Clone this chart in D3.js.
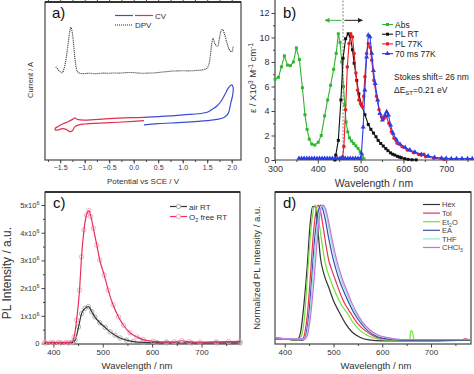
<!DOCTYPE html>
<html>
<head>
<meta charset="utf-8">
<script src="https://cdn.jsdelivr.net/npm/d3@7"></script>
<style>
  body { margin: 0; background: #fff; }
  svg { display: block; font-family: "Liberation Sans", Arial, sans-serif; }
</style>
</head>
<body>
<div id="chart"></div>
<script>
// ---------- a) CV / DPV  (potential V, current arb.) ----------
const dpv = [[-1.59,59.0],[-1.55,57.5],[-1.50,55.8],[-1.46,55.3],[-1.42,58],[-1.38,64],[-1.34,73],[-1.30,82],[-1.28,84],[-1.25,80],[-1.22,71],[-1.19,62],[-1.15,56],[-1.10,54.9],[-1.0,54.7],[-0.9,54.9],[-0.8,54.6],[-0.7,54.8],[-0.6,55.0],[-0.5,54.9],[-0.4,55.1],[-0.3,55.0],[-0.2,55.2],[-0.1,55.4],[0.0,55.3],[0.1,55.0],[0.2,54.9],[0.3,55.0],[0.4,55.1],[0.5,55.4],[0.6,55.7],[0.7,56.0],[0.8,56.3],[0.9,56.4],[1.0,56.5],[1.1,56.4],[1.2,56.5],[1.3,56.7],[1.4,57.0],[1.49,58],[1.53,60],[1.56,65],[1.59,73],[1.62,77],[1.66,73.5],[1.71,72],[1.75,77],[1.78,81.5],[1.81,82.7],[1.85,80],[1.9,74.5],[1.95,70],[2.0,68.5],[2.03,71.7]];
const cvRed = [[0.21,27.0],[0.0,26.8],[-0.5,26.2],[-1.0,25.3],[-1.15,25.7],[-1.2,26.6],[-1.25,25.7],[-1.35,24.1],[-1.45,22.8],[-1.55,21.1],[-1.6,20.0],[-1.6,19.0],[-1.55,19.0],[-1.45,19.8],[-1.38,19.4],[-1.3,17.9],[-1.25,18.5],[-1.2,21.1],[-1.1,22.4],[-1.0,22.8],[-0.5,23.6],[0.0,24.5],[0.21,24.9]];
const cvBlue = [[0.21,27.0],[0.5,27.4],[1.0,28.5],[1.5,30.2],[1.6,32.1],[1.7,34.2],[1.8,38.0],[1.88,42.6],[1.94,46.0],[2.0,47.5],[2.03,46.0],[2.02,41.1],[1.98,35.9],[1.93,29.5],[1.85,27.0],[1.7,25.7],[1.5,24.9],[1.0,23.8],[0.5,23.0],[0.21,22.2]];
const potTicks = [-1.5,-1.0,-0.5,0.0,0.5,1.0,1.5,2.0];

// ---------- b) absorption / emission (nm, x10^3 M-1 cm-1) ----------
const absSpec = [[300,6.6],[308,6.75],[315,7.6],[322,8.5],[329,7.75],[336,7.7],[343,8.0],[350,9.15],[357,8.2],[364,5.9],[370,3.7],[375,2.5],[380,1.7],[386,1.3],[393,1.22],[401,1.45],[408,2.0],[416,3.6],[423,4.9],[430,6.1],[437,7.4],[443,8.7],[448,10.3],[452,9.6],[456,8.0],[460,6.0],[463,4.5],[466,3.1],[470,2.3],[474,1.8],[479,1.55],[484,1.35],[489,1.15],[494,0.95],[499,0.7],[504,0.35],[508,0.1]];
const plRT = [[440,0.0],[442,0.4],[448,1.6],[454,4.9],[459,8.3],[465,9.9],[471,10.3],[476,10.1],[481,9.0],[485,7.9],[491,6.5],[496,5.4],[502,4.5],[510,3.7],[518,2.9],[524,2.5],[530,2.2],[536,1.9],[541,1.6],[547,1.35],[553,1.14],[559,0.93],[564,0.76],[570,0.58],[575,0.47],[580,0.4],[586,0.3],[591,0.24],[595,0.19],[603,0.11],[611,0.05],[620,0.02],[630,0.01]];
const pl77K = [[458,0.27],[461,1.1],[465,4.1],[469,7.6],[473,9.5],[477,10.3],[481,10.05],[485,8.7],[489,7.1],[493,5.7],[496,4.9],[500,4.6],[504,4.35],[507,5.2],[510,6.8],[514,8.7],[518,9.5],[522,9.2],[526,8.15],[531,6.5],[537,5.2],[543,4.1],[549,3.5],[555,3.4],[560,3.55],[566,3.0],[572,2.3],[578,1.77],[585,1.36],[597,1.09],[609,0.82],[624,0.6],[636,0.45],[642,0.4],[648,0.47],[652,0.27],[671,0.14],[695,0.05]];
const delayed77K = [[356,0.13],[362,0.12],[368,0.13],[374,0.12],[380,0.13],[386,0.12],[392,0.13],[398,0.12],[404,0.13],[410,0.12],[416,0.13],[422,0.12],[428,0.13],[434,0.12],[440,0.13],[446,0.12],[452,0.13],[458,0.12],[464,0.13],[470,0.12],[476,0.13],[482,0.12],[488,0.13],[494,0.13],[500,0.14],[502,0.54],[506,2.7],[510,5.7],[514,8.4],[518,10.2],[522,10.05],[526,8.7],[530,7.3],[534,6.25],[540,4.9],[545,3.8],[551,3.26],[557,3.67],[561,3.94],[565,3.67],[570,2.85],[576,2.17],[584,1.63],[592,1.3],[604,1.03],[615,0.82],[627,0.65],[642,0.46],[658,0.33],[673,0.22],[689,0.16],[700,0.13],[712,0.11],[724,0.11],[737,0.11],[750,0.11],[761,0.11]];
const epsTicks = [0,2,4,6,8,10,12];
const wlTicksB = [300,400,500,600,700];

// ---------- c) PL air vs O2 free (nm, x10^6 a.u.) ----------
const airRT = [[383,0.02],[400,0.02],[415,0.02],[430,0.02],[438,0.03],[444,0.12],[451,0.6],[457,1.08],[464,1.27],[471,1.33],[478,1.14],[484,0.96],[494,0.75],[505,0.58],[515,0.42],[525,0.3],[535,0.2],[548,0.12],[562,0.07],[582,0.04],[610,0.03],[630,0.02],[680,0.02],[730,0.02],[778,0.02]];
const o2FreeRT = [[383,0.04],[395,0.04],[410,0.04],[425,0.04],[437,0.05],[442,0.24],[447,0.84],[453,1.93],[457,3.13],[462,4.1],[467,4.64],[472,4.8],[476,4.58],[481,4.16],[488,3.55],[494,3.01],[503,2.47],[511,1.93],[521,1.39],[532,0.96],[542,0.66],[555,0.39],[569,0.24],[582,0.14],[602,0.08],[629,0.06],[645,0.06],[660,0.1],[675,0.06],[697,0.05],[730,0.06],[755,0.07],[778,0.08]];
const intTicks = [0,1,2,3,4,5];
const wlTicksCD = [400,500,600,700];

// ---------- d) solvatochromism (nm, normalized) ----------
const solventNames = ["Hex","Tol","Et2O","EA","THF","CHCl3"];
const hex = [[380,0.03],[400,0.02],[425,0.01],[432,0.06],[439,0.26],[446,0.55],[452,0.86],[457,0.99],[463,0.99],[468,0.82],[473,0.62],[480,0.5],[490,0.4],[500,0.3],[511,0.22],[525,0.13],[538,0.07],[555,0.03],[573,0.012],[600,0.005],[700,0.005],[780,0.01]];
const tol = [[380,0.02],[400,0.02],[435,0.01],[441,0.06],[447,0.22],[453,0.5],[458,0.76],[463,0.93],[468,1.0],[473,0.96],[478,0.86],[484,0.72],[490,0.6],[497,0.52],[504,0.45],[512,0.37],[520,0.3],[535,0.21],[550,0.13],[565,0.08],[580,0.045],[600,0.02],[640,0.01],[760,0.01],[770,0.02],[780,0.01]];
const et2o = [[380,0.02],[400,0.02],[428,0.01],[435,0.05],[441,0.2],[446,0.45],[452,0.75],[457,0.93],[462,1.0],[467,0.95],[472,0.83],[478,0.68],[484,0.56],[494,0.45],[505,0.35],[516,0.27],[528,0.21],[540,0.14],[555,0.08],[570,0.045],[590,0.02],[620,0.01],[656,0.01],[659,0.08],[662,0.07],[665,0.01],[780,0.01]];
const ea = [[380,0.02],[400,0.02],[438,0.01],[444,0.06],[450,0.22],[455,0.45],[461,0.74],[467,0.92],[473,1.0],[478,0.97],[484,0.88],[490,0.76],[497,0.64],[505,0.53],[512,0.45],[522,0.36],[532,0.28],[542,0.21],[555,0.14],[570,0.08],[585,0.045],[600,0.025],[640,0.01],[780,0.01]];
const thf = [[380,0.03],[400,0.02],[440,0.02],[446,0.07],[452,0.22],[457,0.45],[463,0.72],[470,0.92],[477,1.0],[482,0.97],[488,0.88],[494,0.76],[501,0.64],[508,0.54],[516,0.45],[526,0.36],[535,0.28],[545,0.21],[558,0.14],[572,0.085],[588,0.05],[605,0.03],[640,0.015],[780,0.015]];
const chcl3 = [[380,0.03],[400,0.02],[442,0.02],[448,0.07],[454,0.22],[460,0.45],[466,0.72],[472,0.93],[478,1.0],[484,0.97],[490,0.88],[496,0.77],[503,0.65],[511,0.54],[519,0.45],[529,0.36],[538,0.28],[548,0.21],[560,0.14],[575,0.085],[590,0.05],[608,0.03],[640,0.015],[780,0.015]];

const ink = '#444';
const svg = d3.select('#chart').append('svg').attr('width', 474).attr('height', 374);

// scales
const xA = d3.scaleLinear().domain([-1.81, 2.19]).range([45, 241]);
const yA = d3.scaleLinear().domain([0, 100]).range([160, 2]);
const xB = d3.scaleLinear().domain([300, 765]).range([275, 474]);
const yB = d3.scaleLinear().domain([0, 13.06]).range([160, 0]);
const xC = d3.scaleLinear().domain([383, 778]).range([45, 240]);
const yC = d3.scaleLinear().domain([-0.018, 5.47]).range([344, 192]);
const xD = d3.scaleLinear().domain([380, 782]).range([275, 471]);
const yD = d3.scaleLinear().domain([-0.018, 1.097]).range([344, 192]);

function frame(x, y) {
  svg.append('rect')
    .attr('x', x.range()[0]).attr('y', y.range()[1])
    .attr('width', x.range()[1] - x.range()[0])
    .attr('height', y.range()[0] - y.range()[1])
    .attr('fill', 'none').attr('stroke', ink).attr('stroke-width', 1.2);
  // top edge is drawn heavier in the original
  svg.append('line')
    .attr('x1', x.range()[0]).attr('x2', x.range()[1])
    .attr('y1', y.range()[1]).attr('y2', y.range()[1])
    .attr('stroke', '#333').attr('stroke-width', 1.8);
}

function minorTicks(axis, pos, vals) {
  svg.append('g').attr('transform', pos)
    .call(axis.tickValues(vals).tickSize(2).tickFormat(''))
    .call(g => g.select('.domain').remove())
    .call(g => g.selectAll('line').attr('stroke', ink));
}

function majorTicks(axis, pos, vals, fmt, size) {
  return svg.append('g').attr('transform', pos)
    .call(axis.tickValues(vals).tickSize(3.5).tickPadding(2).tickFormat(fmt))
    .call(g => g.select('.domain').remove())
    .call(g => g.selectAll('line').attr('stroke', ink))
    .call(g => g.selectAll('text').attr('fill', '#333').style('font-size', size));
}

function axisTitle(txt, x, y, size, rotate) {
  return svg.append('text')
    .attr('transform', `translate(${x},${y})` + (rotate ? ' rotate(-90)' : ''))
    .attr('text-anchor', 'middle')
    .style('font-size', size).attr('fill', '#333')
    .text(txt);
}

function panelTag(txt, x, y) {
  svg.append('text').attr('x', x).attr('y', y)
    .style('font-size', '15px').attr('fill', '#111').text(txt);
}

// =================== a) ===================
frame(xA, yA);
minorTicks(d3.axisBottom(xA), 'translate(0,160)', d3.range(-1.75, 2.1, 0.25));
majorTicks(d3.axisBottom(xA), 'translate(0,160)', potTicks, d3.format('.1f'), '7px');
minorTicks(d3.axisTop(xA), 'translate(0,2)', d3.range(-1.75, 2.1, 0.25));
axisTitle('Potential vs SCE / V', 143, 184, '8px');
axisTitle('Current / A', 33, 80, '7.5px', true);
panelTag('a)', 52, 18);

const lineA = d3.line().x(d => xA(d[0])).y(d => yA(d[1])).curve(d3.curveCatmullRom.alpha(0.5));
svg.append('path').datum(dpv).attr('d', lineA)
  .attr('fill', 'none').attr('stroke', '#222').attr('stroke-width', 1.1).attr('stroke-dasharray', '1,1');
svg.append('path').datum(cvRed).attr('d', lineA)
  .attr('fill', 'none').attr('stroke', '#e0304f').attr('stroke-width', 1.2);
svg.append('path').datum(cvBlue).attr('d', lineA)
  .attr('fill', 'none').attr('stroke', '#3a4fd0').attr('stroke-width', 1.2);

// legend a
svg.append('line').attr('x1', 115).attr('x2', 133).attr('y1', 15.5).attr('y2', 15.5).attr('stroke', '#3a4fd0').attr('stroke-width', 1.2);
svg.append('line').attr('x1', 135).attr('x2', 153).attr('y1', 15.5).attr('y2', 15.5).attr('stroke', '#e0304f').attr('stroke-width', 1.2);
svg.append('text').attr('x', 155).attr('y', 18.5).style('font-size', '8px').attr('fill', '#333').text('CV');
svg.append('line').attr('x1', 115).attr('x2', 133).attr('y1', 25).attr('y2', 25).attr('stroke', '#222').attr('stroke-width', 1.1).attr('stroke-dasharray', '1,1');
svg.append('text').attr('x', 135).attr('y', 28).style('font-size', '8px').attr('fill', '#333').text('DPV');

// =================== b) ===================
svg.append('line').attr('x1', 275).attr('x2', 275).attr('y1', 0).attr('y2', 160).attr('stroke', ink).attr('stroke-width', 1.2);
svg.append('line').attr('x1', 275).attr('x2', 474).attr('y1', 160).attr('y2', 160).attr('stroke', ink).attr('stroke-width', 1.2);
minorTicks(d3.axisBottom(xB), 'translate(0,160)', d3.range(350, 760, 100));
majorTicks(d3.axisBottom(xB), 'translate(0,160)', wlTicksB, d3.format('d'), '9px');
minorTicks(d3.axisLeft(yB), 'translate(275,0)', d3.range(1, 13, 2));
majorTicks(d3.axisLeft(yB), 'translate(275,0)', epsTicks, d3.format('d'), '9px');
axisTitle('Wavelength / nm', 374, 187, '10.5px');
panelTag('b)', 283, 18);

const yTitleB = svg.append('text')
  .attr('transform', 'translate(256,78) rotate(-90)')
  .attr('text-anchor', 'middle').style('font-size', '9.5px').attr('fill', '#333');
yTitleB.append('tspan').text('ε / X10');
yTitleB.append('tspan').attr('dy', -3.5).style('font-size', '6.5px').text('3');
yTitleB.append('tspan').attr('dy', 3.5).text(' M');
yTitleB.append('tspan').attr('dy', -3.5).style('font-size', '6.5px').text('-1');
yTitleB.append('tspan').attr('dy', 3.5).text(' cm');
yTitleB.append('tspan').attr('dy', -3.5).style('font-size', '6.5px').text('-1');

// dashed vertical and arrows
const dashWl = 459, arrowY = 11.4;
svg.append('line').attr('x1', xB(dashWl)).attr('x2', xB(dashWl)).attr('y1', yB(0)).attr('y2', yB(13.06))
  .attr('stroke', '#888').attr('stroke-width', 1).attr('stroke-dasharray', '2,1.5');
const defs = svg.append('defs');
[['arrG', '#3cb43c'], ['arrK', '#222']].forEach(([id, c]) => {
  defs.append('marker').attr('id', id).attr('viewBox', '0 0 10 10').attr('refX', 9).attr('refY', 5)
    .attr('markerWidth', 5).attr('markerHeight', 5).attr('orient', 'auto')
    .append('path').attr('d', 'M0,0 L10,5 L0,10 z').attr('fill', c);
});
svg.append('line').attr('x1', xB(dashWl) - 1.5).attr('x2', xB(417)).attr('y1', yB(arrowY)).attr('y2', yB(arrowY))
  .attr('stroke', '#3cb43c').attr('stroke-width', 1).attr('marker-end', 'url(#arrG)');
svg.append('line').attr('x1', xB(dashWl) + 1.5).attr('x2', xB(504)).attr('y1', yB(arrowY)).attr('y2', yB(arrowY))
  .attr('stroke', '#222').attr('stroke-width', 1).attr('marker-end', 'url(#arrK)');

const lineB = d3.line().x(d => xB(d[0])).y(d => yB(d[1]));
const seriesB = [
  { data: absSpec, color: '#2fb52f', sym: d3.symbolSquare, size: 9, name: 'Abs' },
  { data: plRT, color: '#111', sym: d3.symbolSquare, size: 9, name: 'PL RT' },
  { data: pl77K, color: '#ec1c24', sym: d3.symbolCircle, size: 10, name: 'PL 77K' },
  { data: delayed77K, color: '#2b3be6', sym: d3.symbolTriangle, size: 11, name: '70 ms 77K' }
];
seriesB.forEach(s => {
  svg.append('path').datum(s.data).attr('d', lineB)
    .attr('fill', 'none').attr('stroke', s.color).attr('stroke-width', 1.1);
  svg.append('g').selectAll('path').data(s.data).enter().append('path')
    .attr('d', d3.symbol().type(s.sym).size(s.size))
    .attr('transform', d => `translate(${xB(d[0])},${yB(d[1])})`)
    .attr('fill', s.color);
});
seriesB.forEach((s, i) => {
  const ly = 24.5 + i * 9.7;
  svg.append('line').attr('x1', 382).attr('x2', 393).attr('y1', ly).attr('y2', ly).attr('stroke', s.color).attr('stroke-width', 1.1);
  svg.append('path').attr('d', d3.symbol().type(s.sym).size(s.size)).attr('transform', `translate(387.5,${ly})`).attr('fill', s.color);
  svg.append('text').attr('x', 395).attr('y', ly + 3.2).style('font-size', '8.5px').attr('fill', '#222').text(s.name);
});
svg.append('text').attr('x', 394).attr('y', 80).style('font-size', '8.5px').attr('fill', '#222').text('Stokes shift= 26 nm');
const dE = svg.append('text').attr('x', 394).attr('y', 93).style('font-size', '8.5px').attr('fill', '#222');
dE.append('tspan').text('ΔE');
dE.append('tspan').attr('dy', 2).style('font-size', '6px').text('ST');
dE.append('tspan').attr('dy', -2).text('=0.21 eV');

// =================== c) ===================
frame(xC, yC);
minorTicks(d3.axisBottom(xC), 'translate(0,344)', d3.range(450, 770, 100));
majorTicks(d3.axisBottom(xC), 'translate(0,344)', wlTicksCD, d3.format('d'), '8px');
minorTicks(d3.axisLeft(yC), 'translate(45,0)', d3.range(0.5, 5.4, 1));
const yAxC = majorTicks(d3.axisLeft(yC), 'translate(45,0)', intTicks, d => d, '7.5px');
yAxC.selectAll('text').each(function (d) {
  const t = d3.select(this).text(null);
  if (d === 0) { t.text('0'); return; }
  t.append('tspan').text(d + 'x10');
  t.append('tspan').attr('dy', -3).style('font-size', '5.5px').text('6');
});
axisTitle('Wavelength / nm', 137, 369, '9.5px');
axisTitle('PL Intensity / a.u.', 11, 273, '12px', true);
panelTag('c)', 53, 208);

const lineC = d3.line().x(d => xC(d[0])).y(d => yC(d[1])).curve(d3.curveMonotoneX);
const seriesC = [
  { data: airRT, color: '#333', mark: '#a8a8a8', name: 'air RT' },
  { data: o2FreeRT, color: '#e8305a', mark: '#f3a3bf', name: 'O2 free RT' }
];
seriesC.forEach(s => {
  svg.append('g').selectAll('circle').data(s.data).enter().append('circle')
    .attr('cx', d => xC(d[0])).attr('cy', d => yC(d[1])).attr('r', 2.2)
    .attr('fill', 'none').attr('stroke', s.mark).attr('stroke-width', 0.9);
  svg.append('path').datum(s.data).attr('d', lineC)
    .attr('fill', 'none').attr('stroke', s.color).attr('stroke-width', 1.2);
});
seriesC.forEach((s, i) => {
  const ly = 206.5 + i * 10;
  svg.append('line').attr('x1', 170).attr('x2', 187).attr('y1', ly).attr('y2', ly).attr('stroke', s.color).attr('stroke-width', 1.2);
  svg.append('circle').attr('cx', 178.5).attr('cy', ly).attr('r', 2.2).attr('fill', '#fff').attr('stroke', s.mark);
  const t = svg.append('text').attr('x', 189).attr('y', ly + 3).style('font-size', '8px').attr('fill', '#333');
  if (i === 0) t.text(s.name);
  else {
    t.append('tspan').text('O');
    t.append('tspan').attr('dy', 2).style('font-size', '5.5px').text('2');
    t.append('tspan').attr('dy', -2).text(' free RT');
  }
});

// =================== d) ===================
frame(xD, yD);
minorTicks(d3.axisBottom(xD), 'translate(0,344)', d3.range(450, 770, 100));
majorTicks(d3.axisBottom(xD), 'translate(0,344)', wlTicksCD, d3.format('d'), '8px');
axisTitle('Wavelength / nm', 376, 369, '9.5px');
axisTitle('Normalized PL Intensity / a.u.', 260, 268, '9.5px', true);
panelTag('d)', 283, 208);

const lineD = d3.line().x(d => xD(d[0])).y(d => yD(d[1])).curve(d3.curveMonotoneX);
const seriesD = [
  { data: hex, color: '#333' },
  { data: tol, color: '#ea3450' },
  { data: et2o, color: '#72e03c' },
  { data: ea, color: '#3a4eb0' },
  { data: thf, color: '#90e4dc' },
  { data: chcl3, color: '#c870dc' }
];
seriesD.forEach(s => {
  svg.append('path').datum(s.data).attr('d', lineD)
    .attr('fill', 'none').attr('stroke', s.color).attr('stroke-width', 1.2);
});
seriesD.forEach((s, i) => {
  const ly = 204.5 + i * 8.6;
  svg.append('line').attr('x1', 423).attr('x2', 440).attr('y1', ly).attr('y2', ly).attr('stroke', s.color).attr('stroke-width', 1.2);
  const t = svg.append('text').attr('x', 442).attr('y', ly + 2.8).style('font-size', '7.5px').attr('fill', '#444');
  const name = solventNames[i];
  if (name === 'Et2O') {
    t.append('tspan').text('Et');
    t.append('tspan').attr('dy', 2).style('font-size', '5px').text('2');
    t.append('tspan').attr('dy', -2).text('O');
  } else if (name === 'CHCl3') {
    t.append('tspan').text('CHCl');
    t.append('tspan').attr('dy', 2).style('font-size', '5px').text('3');
  } else t.text(name);
});
</script>
</body>
</html>
